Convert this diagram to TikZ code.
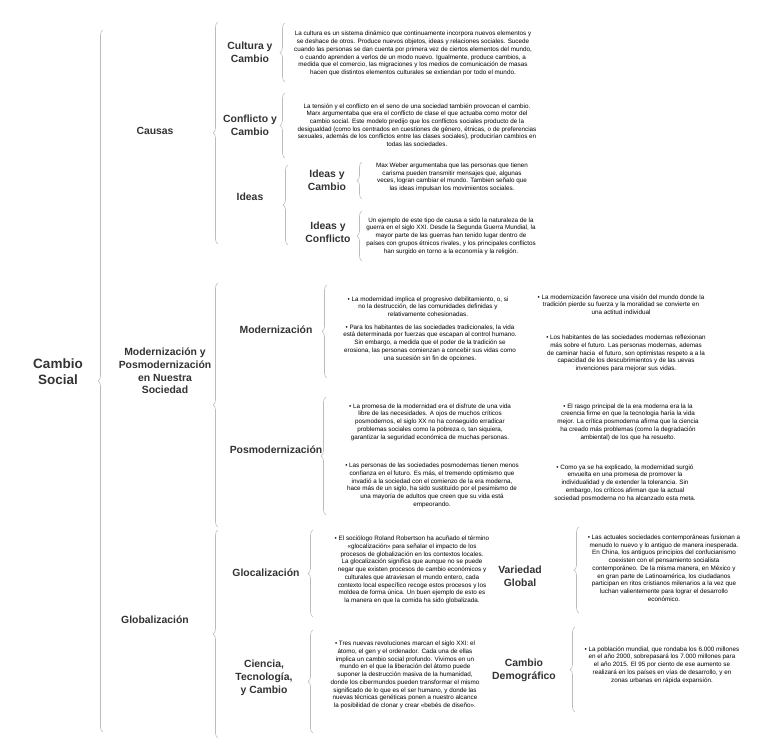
\documentclass[tikz,border=0pt]{standalone}
\usepackage{fontspec}
\setmainfont{Liberation Sans}
\usetikzlibrary{decorations.pathreplacing}
\definecolor{labelgray}{HTML}{333333}
\definecolor{bracegray}{HTML}{BBBBBB}
\begin{document}
\begin{tikzpicture}[
  x=1pt, y=-1pt,
  root/.style={font=\fontsize{13.5}{16}\selectfont\bfseries, text=labelgray, align=center},
  topic/.style={font=\fontsize{10.4}{12.8}\selectfont\bfseries, text=labelgray, align=center},
  para/.style={font=\fontsize{6.3}{7.7}\selectfont, align=center, inner sep=0pt},
  brc/.style={decorate, decoration={brace, amplitude=5pt}, draw=bracegray, line width=0.6pt}
]
  \useasboundingbox (0,0) rectangle (768,740);

  % Root
  \node[root] (root) at (58,372) {Cambio\\Social};
  \draw[brc] (103,732) -- (103,30);

  % Causas
  \node[topic] (causas) at (155,131) {Causas};
  \draw[brc] (218,244) -- (218,22);

  \node[topic] (cultura) at (250,52) {Cultura y\\Cambio};
  \draw[brc] (285,82) -- (285,23);
  \node[para] (culturatxt) at (413,53.5) {La cultura es un sistema dinámico que continuamente incorpora nuevos elementos y\\
    se deshace de otros. Produce nuevos objetos, ideas y relaciones sociales. Sucede\\
    cuando las personas se dan cuenta por primera vez de ciertos elementos del mundo,\\
    o cuando aprenden a verlos de un modo nuevo. Igualmente, produce cambios, a\\
    medida que el comercio, las migraciones y los medios de comunicación de masas\\
    hacen que distintos elementos culturales se extiendan por todo el mundo.};

  \node[topic] (conflicto) at (250,125) {Conflicto y\\Cambio};
  \draw[brc] (285,158) -- (285,93);
  \node[para] (conflictotxt) at (417,125) {La tensión y el conflicto en el seno de una sociedad también provocan el cambio.\\
    Marx argumentaba que era el conflicto de clase el que actuaba como motor del\\
    cambio social. Este modelo predijo que los conflictos sociales producto de la\\
    desigualdad (como los centrados en cuestiones de género, étnicas, o de preferencias\\
    sexuales, además de los conflictos entre las clases sociales), producirían cambios en\\
    todas las sociedades.};

  \node[topic] (ideas) at (250,197) {Ideas};
  \draw[brc] (288,245) -- (288,165);

  \node[topic] (ideascambio) at (327,180) {Ideas y\\Cambio};
  \draw[brc] (362,199) -- (362,162);
  \node[para] (ideascambiotxt) at (452,177.5) {Max Weber argumentaba que las personas que tienen\\
    carisma pueden transmitir mensajes que, algunas\\
    veces, logran cambiar el mundo. Tambien señalo que\\
    las ideas impulsan los movimientos sociales.};

  \node[topic] (ideasconflicto) at (328,232) {Ideas y\\Conflicto};
  \draw[brc] (362,261) -- (362,211);
  \node[para] (ideasconflictotxt) at (451,236) {Un ejemplo de este tipo de causa a sido la naturaleza de la\\
    guerra en el siglo XXI. Desde la Segunda Guerra Mundial, la\\
    mayor parte de las guerras han tenido lugar dentro de\\
    países con grupos étnicos rivales, y los principales conflictos\\
    han surgido en torno a la economía y la religión.};

  % Modernizacion y Posmodernizacion
  \node[topic] (moder) at (165,371) {Modernización y\\Posmodernización\\en Nuestra\\Sociedad};
  \draw[brc] (218,527) -- (218,283);

  \node[topic] (modern) at (276,330) {Modernización};
  \draw[brc] (327,378) -- (327,285);
  \node[para] (modl1) at (428,306.5) {• La modernidad implica el progresivo debilitamiento, o, si\\
    no la destrucción, de las comunidades definidas y\\
    relativamente cohesionadas.};
  \node[para] (modl2) at (430,343) {• Para los habitantes de las sociedades tradicionales, la vida\\
    está determinada por fuerzas que escapan al control humano.\\
    Sin embargo, a medida que el poder de la tradición se\\
    erosiona, las personas comienzan a concebir sus vidas como\\
    una sucesión sin fin de opciones.};
  \node[para] (modr1) at (621,304.5) {• La modernización favorece una visión del mundo donde la\\
    tradición pierde su fuerza y la moralidad se convierte en\\
    una actitud individual};
  \node[para] (modr2) at (626,353.5) {• Los habitantes de las sociedades modernas reflexionan\\
    más sobre el futuro. Las personas modernas, ademas\\
    de caminar hacia\ \ el futuro, son optimistas respeto a a la\\
    capacidad de los descubrimientos y de las uevas\\
    invenciones para mejorar sus vidas.};

  \node[topic] (posmod) at (276,450) {Posmodernización};
  \draw[brc] (326,515) -- (326,397);
  \node[para] (posl1) at (430,422) {• La promesa de la modernidad era el disfrute de una vida\\
    libre de las necesidades. A ojos de muchos críticos\\
    posmodernos, el siglo XX no ha conseguido erradicar\\
    problemas sociales como la pobreza o, tan siquiera,\\
    garantizar la seguridad económica de muchas personas.};
  \node[para] (posl2) at (432,485.5) {• Las personas de las sociedades posmodernas tienen menos\\
    confianza en el futuro. Es más, el tremendo optimismo que\\
    invadió a la sociedad con el comienzo de la era moderna,\\
    hace más de un siglo, ha sido sustituido por el pesimismo de\\
    una mayoría de adultos que creen que su vida está\\
    empeorando.};
  \node[para] (posr1) at (628,422) {• El rasgo principal de la era moderna era la la\\
    creencia firme en que la tecnologia haría la vida\\
    mejor. La crítica posmoderna afirma que la ciencia\\
    ha creado más problemas (como la degradación\\
    ambiental) de los que ha resuelto.};
  \node[para] (posr2) at (625,483) {• Como ya se ha explicado, la modernidad surgió\\
    envuelta en una promesa de promover la\\
    individualidad y de extender la tolerancia. Sin\\
    embargo, los críticos afirman que la actual\\
    sociedad posmoderna no ha alcanzado esta meta.};

  % Globalizacion
  \node[topic] (glob) at (155,620) {Globalización};
  \draw[brc] (218,738) -- (218,530);

  \node[topic] (gloc) at (266,573) {Glocalización};
  \draw[brc] (313,617) -- (313,530);
  \node[para] (gloctxt) at (412,570) {• El sociólogo Roland Robertson ha acuñado el término\\
    «glocalización» para señalar el impacto de los\\
    procesos de globalización en los contextos locales.\\
    La glocalización significa que aunque no se puede\\
    negar que existen procesos de cambio económicos y\\
    culturales que atraviesan el mundo entero, cada\\
    contexto local específico recoge estos procesos y los\\
    moldea de forma única. Un buen ejemplo de esto es\\
    la manera en que la comida ha sido globalizada.};

  \node[topic] (variedad) at (520,576) {Variedad\\Global};
  \draw[brc] (579,613) -- (579,527);
  \node[para] (variedadtxt) at (664,568) {• Las actuales sociedades contemporáneas fusionan a\\
    menudo lo nuevo y lo antiguo de manera inesperada.\\
    En China, los antiguos principios del confucianismo\\
    coexisten con el pensamiento socialista\\
    contemporáneo. De la misma manera, en México y\\
    en gran parte de Latinoamérica, los ciudadanos\\
    participan en ritos cristianos milenarios a la vez que\\
    luchan valientemente para lograr el desarrollo\\
    económico.};

  \node[topic] (ciencia) at (264,678) {Ciencia,\\Tecnología,\\y Cambio};
  \draw[brc] (313,733) -- (313,630);
  \node[para] (cienciatxt) at (405,675) {• Tres nuevas revoluciones marcan el siglo XXI: el\\
    átomo, el gen y el ordenador. Cada una de ellas\\
    implica un cambio social profundo. Vivimos en un\\
    mundo en el que la liberación del átomo puede\\
    suponer la destrucción masiva de la humanidad,\\
    donde los cibermundos pueden transformar el mismo\\
    significado de lo que es el ser humano, y donde las\\
    nuevas técnicas genéticas ponen a nuestro alcance\\
    la posibilidad de clonar y crear «bebés de diseño».};

  \node[topic] (demografico) at (524,670) {Cambio\\Demográfico};
  \draw[brc] (575,712) -- (575,627);
  \node[para] (demograficotxt) at (662,665) {• La población mundial, que rondaba los 6.000 millones\\
    en el año 2000, sobrepasará los 7.000 millones para\\
    el año 2015. El 95 por ciento de ese aumento se\\
    realizará en los países en vías de desarrollo, y en\\
    zonas urbanas en rápida expansión.};
\end{tikzpicture}
\end{document}
